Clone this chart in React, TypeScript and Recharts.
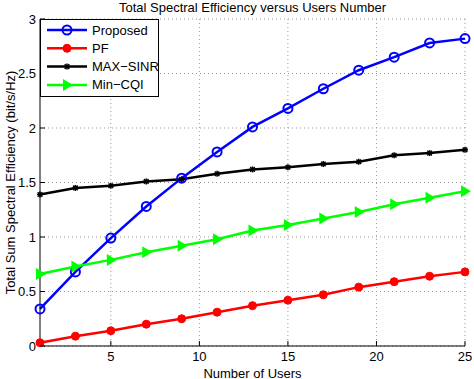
import React from 'react';
import { LineChart, Line, XAxis, YAxis, CartesianGrid } from 'recharts';

const users = [1, 3, 5, 7, 9, 11, 13, 15, 17, 19, 21, 23, 25];
const proposed = [0.34, 0.68, 0.99, 1.28, 1.54, 1.78, 2.01, 2.18, 2.36, 2.53, 2.65, 2.78, 2.82];
const pf = [0.03, 0.09, 0.14, 0.2, 0.25, 0.31, 0.37, 0.42, 0.47, 0.54, 0.59, 0.64, 0.68];
const maxSinr = [1.39, 1.45, 1.47, 1.51, 1.53, 1.58, 1.62, 1.64, 1.67, 1.69, 1.75, 1.77, 1.8];
const minCqi = [0.66, 0.73, 0.79, 0.86, 0.92, 0.98, 1.06, 1.11, 1.17, 1.23, 1.3, 1.36, 1.42];

const xTicks = [5, 10, 15, 20, 25];
const yTicks = [0, 0.5, 1, 1.5, 2, 2.5, 3];

const title = 'Total Spectral Efficiency versus Users Number';
const font = '"Liberation Sans", Arial, sans-serif';

const data = users.map((u, i) => ({
    users: u,
    proposed: proposed[i],
    pf: pf[i],
    maxSinr: maxSinr[i],
    minCqi: minCqi[i],
}));

const Marker = ({ kind, cx, cy, color }: { kind: string; cx: number; cy: number; color: string }) => {
    if (kind === 'circle') {
        return <circle cx={cx} cy={cy} r={4.5} fill="none" stroke={color} strokeWidth={2} />;
    }
    if (kind === 'dot') {
        return <circle cx={cx} cy={cy} r={4} fill={color} stroke={color} />;
    }
    if (kind === 'star') {
        return (
            <g stroke={color} strokeWidth={1.5}>
                <line x1={cx - 3} y1={cy} x2={cx + 3} y2={cy} />
                <line x1={cx} y1={cy - 3} x2={cx} y2={cy + 3} />
                <line x1={cx - 2.3} y1={cy - 2.3} x2={cx + 2.3} y2={cy + 2.3} />
                <line x1={cx - 2.3} y1={cy + 2.3} x2={cx + 2.3} y2={cy - 2.3} />
            </g>
        );
    }
    return <polygon points={`${cx + 6},${cy} ${cx - 4},${cy - 6} ${cx - 4},${cy + 6}`} fill={color} />;
};

const series = [
    { key: 'proposed', name: 'Proposed', color: '#0000ff', marker: 'circle' },
    { key: 'pf', name: 'PF', color: '#ff0000', marker: 'dot' },
    { key: 'maxSinr', name: 'MAX\u2212SINR', color: '#000000', marker: 'star' },
    { key: 'minCqi', name: 'Min\u2212CQI', color: '#00ff00', marker: 'tri' },
];

const BottomTick = (props: any) => {
    const { x, y, payload } = props;
    return (
        <g>
            <line x1={x} y1={y - 6} x2={x} y2={y - 11} stroke="#000" />
            <text x={x} y={y} dy="0.71em" textAnchor="middle" fontSize={13} fontFamily={font} fill="#000">
                {payload.value}
            </text>
        </g>
    );
};

const LeftTick = (props: any) => {
    const { x, y, payload } = props;
    return (
        <g>
            <line x1={x + 4} y1={y} x2={x + 9} y2={y} stroke="#000" />
            <text x={x} y={y} dy="0.35em" textAnchor="end" fontSize={13} fontFamily={font} fill="#000">
                {payload.value}
            </text>
        </g>
    );
};

const TopTick = (props: any) => {
    const { x, y } = props;
    return <line x1={x} y1={y} x2={x} y2={y + 5} stroke="#000" />;
};

const RightTick = (props: any) => {
    const { x, y } = props;
    return <line x1={x} y1={y} x2={x - 5} y2={y} stroke="#000" />;
};

const App = () => {
    return (
        <div style={{ position: 'absolute', left: 0, top: 0, width: 474, height: 379, background: '#fff' }}>
            <LineChart width={474} height={379} data={data} margin={{ top: 19, right: 9, bottom: 0, left: 0 }}>
                <CartesianGrid stroke="#999" strokeDasharray="1 3" verticalValues={xTicks} horizontalValues={yTicks} />
                <XAxis
                    dataKey="users"
                    type="number"
                    domain={[1, 25]}
                    ticks={xTicks}
                    height={33}
                    tickSize={0}
                    tickMargin={6}
                    tick={BottomTick}
                    axisLine={{ stroke: '#000' }}
                    label={{ value: 'Number of Users', position: 'insideBottom', offset: 1.5, fontSize: 13, fontFamily: font, fill: '#000' }}
                />
                <XAxis
                    xAxisId="top"
                    orientation="top"
                    type="number"
                    domain={[1, 25]}
                    ticks={xTicks}
                    height={0}
                    tickSize={0}
                    tickMargin={0}
                    tick={TopTick}
                    axisLine={{ stroke: '#000' }}
                />
                <YAxis
                    type="number"
                    domain={[0, 3]}
                    ticks={yTicks}
                    width={40}
                    tickSize={0}
                    tickMargin={4}
                    tick={LeftTick}
                    axisLine={{ stroke: '#000' }}
                    label={{
                        value: 'Total Sum Spectral Efficiency (bit/s/Hz)',
                        angle: -90,
                        position: 'insideLeft',
                        offset: 10,
                        fontSize: 13,
                        fontFamily: font,
                        fill: '#000',
                        style: { textAnchor: 'middle' },
                    }}
                />
                <YAxis
                    yAxisId="right"
                    orientation="right"
                    type="number"
                    domain={[0, 3]}
                    ticks={yTicks}
                    width={0}
                    tickSize={0}
                    tickMargin={0}
                    tick={RightTick}
                    axisLine={{ stroke: '#000' }}
                />
                {series.map((s) => (
                    <Line
                        key={s.key}
                        dataKey={s.key}
                        name={s.name}
                        stroke={s.color}
                        strokeWidth={2.5}
                        isAnimationActive={false}
                        dot={(p: any) => <Marker key={`${s.key}-${p.index}`} kind={s.marker} cx={p.cx} cy={p.cy} color={s.color} />}
                    />
                ))}
            </LineChart>
            <svg style={{ position: 'absolute', left: 0, top: 0, pointerEvents: 'none' }} width={474} height={18}>
                <text x={252.5} y={11.5} textAnchor="middle" fontSize={13} fontFamily={font} fill="#000">
                    {title}
                </text>
            </svg>
            <svg style={{ position: 'absolute', left: 40, top: 19 }} width={119} height={78}>
                <rect x={0.5} y={0.5} width={118} height={77} fill="#fff" stroke="#000" />
                {series.map((s, i) => {
                    const cy = 11 + i * 18.3;
                    return (
                        <g key={s.key}>
                            <line x1={7} y1={cy} x2={47} y2={cy} stroke={s.color} strokeWidth={2.5} />
                            <Marker kind={s.marker} cx={27} cy={cy} color={s.color} />
                            <text x={52} y={cy} dy="0.35em" fontSize={13} fontFamily={font} fill="#000">
                                {s.name}
                            </text>
                        </g>
                    );
                })}
            </svg>
        </div>
    );
};

export default App;
